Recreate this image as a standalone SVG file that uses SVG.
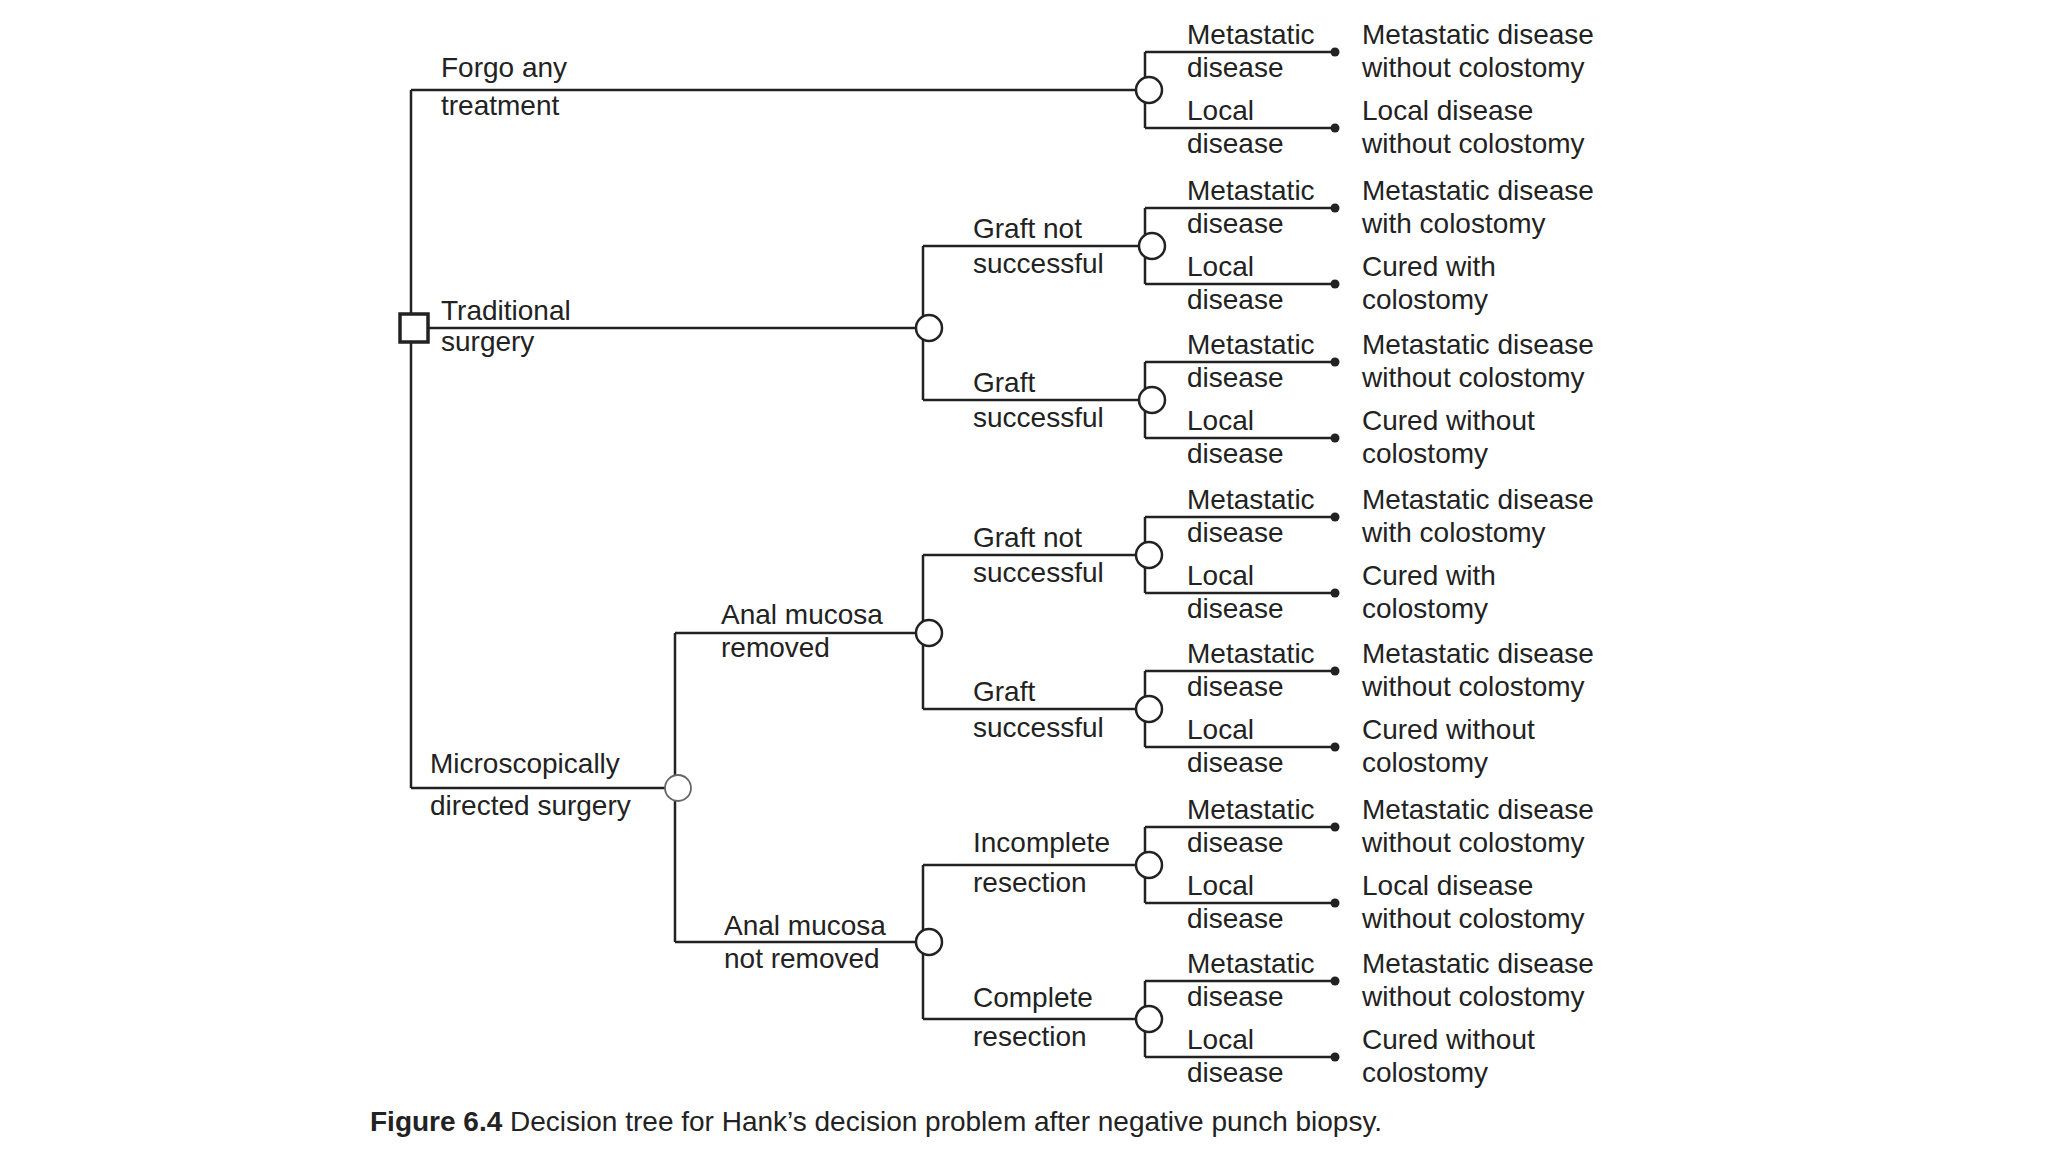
<svg xmlns="http://www.w3.org/2000/svg" width="2048" height="1152" viewBox="0 0 2048 1152">
<style>
text{font-family:"Liberation Sans",Arial,sans-serif;font-size:28px;fill:#222}
.l{stroke:#222;stroke-width:2.5;fill:none}
.c{fill:#fff;stroke:#222;stroke-width:2.5}
.d{fill:#222}
</style>
<defs>
<g id="leaf">
<path class="l" d="M1145,-38 V38 M1145,-38 H1335 M1145,38 H1335"/>
<circle class="d" cx="1335" cy="-38" r="4.5"/><circle class="d" cx="1335" cy="38" r="4.5"/>
<text x="1187" y="-46">Metastatic</text><text x="1187" y="-13">disease</text>
<text x="1187" y="30">Local</text><text x="1187" y="63">disease</text>
</g>
</defs>
<rect width="2048" height="1152" fill="#fff"/>
<g id="connectors">
<path class="l" d="M411,90 V788 M411,90 H1149 M425,328 H929 M411,788 H678"/>
<path class="l" d="M923,246 V400 M923,246 H1152 M923,400 H1152"/>
<path class="l" d="M675,633 V942 M675,633 H929 M675,942 H929"/>
<path class="l" d="M923,555 V709 M923,555 H1149 M923,709 H1149"/>
<path class="l" d="M923,865 V1019 M923,865 H1149 M923,1019 H1149"/>
</g>
<g id="leaves">
<use href="#leaf" y="90"/><use href="#leaf" y="246"/><use href="#leaf" y="400"/>
<use href="#leaf" y="555"/><use href="#leaf" y="709"/><use href="#leaf" y="865"/><use href="#leaf" y="1019"/>
</g>
<g id="decision"><rect x="400" y="314" width="28" height="28" fill="#fff" stroke="#222" stroke-width="3.5"/></g>
<g id="chance">
<circle class="c" cx="1149" cy="90" r="13"/>
<circle class="c" cx="929" cy="328" r="13"/>
<circle cx="678" cy="788" r="13" fill="#fff" stroke="#666" stroke-width="1.8"/>
<circle class="c" cx="1152" cy="246" r="13"/><circle class="c" cx="1152" cy="400" r="13"/>
<circle class="c" cx="929" cy="633" r="13"/><circle class="c" cx="929" cy="942" r="13"/>
<circle class="c" cx="1149" cy="555" r="13"/><circle class="c" cx="1149" cy="709" r="13"/>
<circle class="c" cx="1149" cy="865" r="13"/><circle class="c" cx="1149" cy="1019" r="13"/>
</g>
<g id="branch-labels">
<text x="441" y="77">Forgo any</text><text x="441" y="115">treatment</text>
<text x="441" y="320">Traditional</text><text x="441" y="351">surgery</text>
<text x="430" y="773">Microscopically</text><text x="430" y="815">directed surgery</text>
<text x="973" y="238">Graft not</text><text x="973" y="273">successful</text>
<text x="973" y="392">Graft</text><text x="973" y="427">successful</text>
<text x="721" y="624">Anal mucosa</text><text x="721" y="657">removed</text>
<text x="973" y="547">Graft not</text><text x="973" y="582">successful</text>
<text x="973" y="701">Graft</text><text x="973" y="737">successful</text>
<text x="724" y="935">Anal mucosa</text><text x="724" y="968">not removed</text>
<text x="973" y="852">Incomplete</text><text x="973" y="892">resection</text>
<text x="973" y="1007">Complete</text><text x="973" y="1046">resection</text>
</g>
<g id="outcomes">
<text x="1362" y="44">Metastatic disease</text><text x="1362" y="77">without colostomy</text>
<text x="1362" y="120">Local disease</text><text x="1362" y="153">without colostomy</text>
<text x="1362" y="200">Metastatic disease</text><text x="1362" y="233">with colostomy</text>
<text x="1362" y="276">Cured with</text><text x="1362" y="309">colostomy</text>
<text x="1362" y="354">Metastatic disease</text><text x="1362" y="387">without colostomy</text>
<text x="1362" y="430">Cured without</text><text x="1362" y="463">colostomy</text>
<text x="1362" y="509">Metastatic disease</text><text x="1362" y="542">with colostomy</text>
<text x="1362" y="585">Cured with</text><text x="1362" y="618">colostomy</text>
<text x="1362" y="663">Metastatic disease</text><text x="1362" y="696">without colostomy</text>
<text x="1362" y="739">Cured without</text><text x="1362" y="772">colostomy</text>
<text x="1362" y="819">Metastatic disease</text><text x="1362" y="852">without colostomy</text>
<text x="1362" y="895">Local disease</text><text x="1362" y="928">without colostomy</text>
<text x="1362" y="973">Metastatic disease</text><text x="1362" y="1006">without colostomy</text>
<text x="1362" y="1049">Cured without</text><text x="1362" y="1082">colostomy</text>
</g>
<text x="370" y="1131"><tspan font-weight="bold">Figure 6.4</tspan>  Decision tree for Hank’s decision problem after negative punch biopsy.</text>
</svg>
